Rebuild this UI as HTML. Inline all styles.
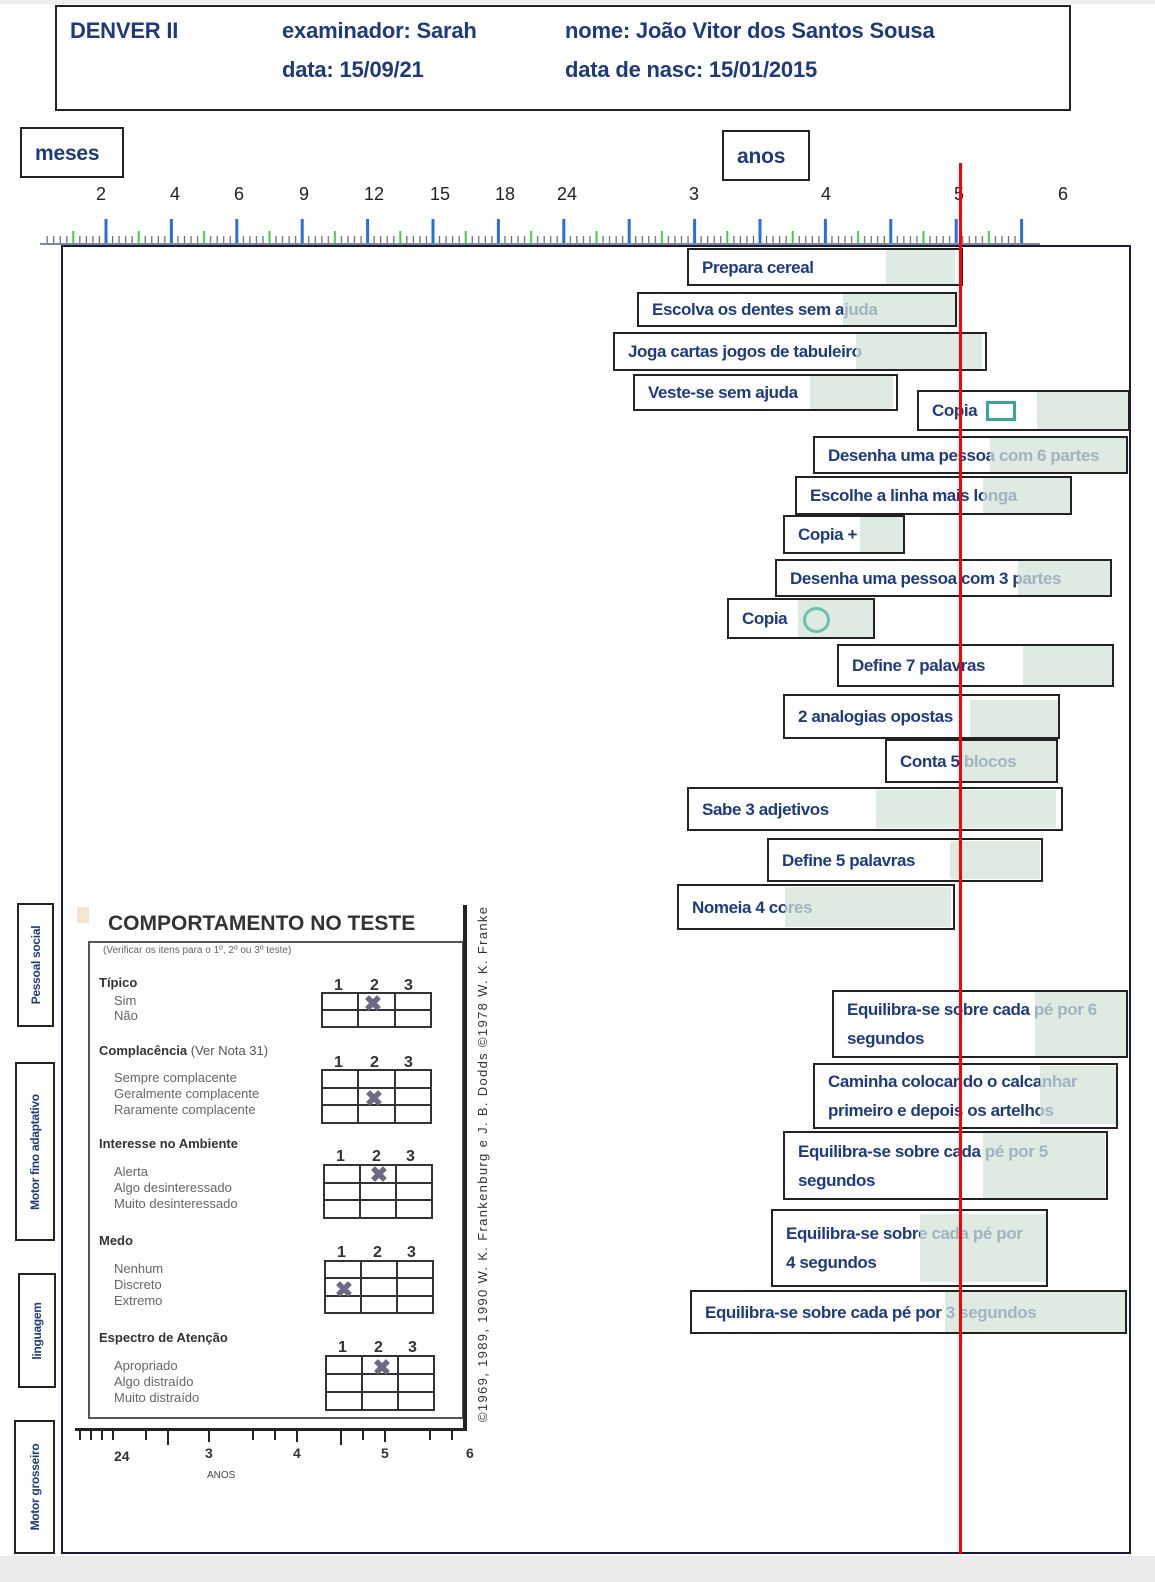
<!DOCTYPE html>
<html><head><meta charset="utf-8"><style>
*{margin:0;padding:0;box-sizing:border-box}
body{width:1155px;height:1582px;position:relative;background:#fff;font-family:"Liberation Sans",sans-serif;overflow:hidden}
.a{position:absolute}
.hd{position:absolute;font-weight:bold;color:#1f3a7c;font-size:22px;letter-spacing:-0.2px}
.bx{position:absolute;border:2px solid #222;background:#fff;color:#1f3b80;font-weight:bold;font-size:17px;display:flex;align-items:center;padding-left:13px;letter-spacing:-0.4px;line-height:29px;white-space:nowrap}
.sh{position:absolute;background:rgba(210,226,216,0.72)}
.lab{position:absolute;border:2px solid #222;background:#fff}
.lab span{position:absolute;left:50%;top:50%;transform:translate(-50%,-50%) rotate(-90deg);white-space:nowrap;color:#1f3b80;font-weight:bold;font-size:12px;letter-spacing:-0.3px}
.ct{position:absolute;color:#333;font-size:13px;font-weight:bold}
.cs{position:absolute;color:#666;font-size:13px}
</style></head><body>
<div class="a" style="left:0;top:0;width:1155px;height:4px;background:#eee"></div>
<div class="a" style="left:0;top:1556px;width:1155px;height:26px;background:#ececec"></div>
<div class="a" style="left:55px;top:5px;width:1016px;height:106px;border:2px solid #222"></div>
<div class="hd" style="left:70px;top:18px">DENVER II</div>
<div class="hd" style="left:282px;top:18px">examinador: Sarah</div>
<div class="hd" style="left:565px;top:18px">nome: João Vitor dos Santos Sousa</div>
<div class="hd" style="left:282px;top:57px">data: 15/09/21</div>
<div class="hd" style="left:565px;top:57px">data de nasc: 15/01/2015</div>
<div class="a" style="left:20px;top:127px;width:104px;height:51px;border:2px solid #222"></div>
<div class="hd" style="left:35px;top:142px;font-size:21px">meses</div>
<div class="a" style="left:722px;top:130px;width:88px;height:51px;border:2px solid #222"></div>
<div class="hd" style="left:737px;top:145px;font-size:21px">anos</div>
<div class="a" style="left:0;top:184px;font-size:18px;color:#222">
<span class="a" style="left:96px">2</span><span class="a" style="left:170px">4</span><span class="a" style="left:234px">6</span><span class="a" style="left:299px">9</span><span class="a" style="left:364px">12</span><span class="a" style="left:430px">15</span><span class="a" style="left:495px">18</span><span class="a" style="left:557px">24</span><span class="a" style="left:689px">3</span><span class="a" style="left:821px">4</span><span class="a" style="left:954px">5</span><span class="a" style="left:1058px">6</span></div>
<svg class="a" style="left:0;top:210px" width="1155" height="40">
<defs><pattern id="p" patternUnits="userSpaceOnUse" x="106" y="0" width="65.4" height="40">
<g stroke="#666" stroke-width="1.2">
<line x1="6.54" y1="26" x2="6.54" y2="33"/><line x1="13.08" y1="26" x2="13.08" y2="33"/><line x1="19.62" y1="26" x2="19.62" y2="33"/><line x1="26.16" y1="26" x2="26.16" y2="33"/>
<line x1="39.24" y1="26" x2="39.24" y2="33"/><line x1="45.78" y1="26" x2="45.78" y2="33"/><line x1="52.32" y1="26" x2="52.32" y2="33"/><line x1="58.86" y1="26" x2="58.86" y2="33"/></g>
<line x1="32.7" y1="21" x2="32.7" y2="33" stroke="#4c4" stroke-width="2"/>
</pattern></defs>
<rect x="40" y="0" width="985" height="34" fill="url(#p)"/>
<g stroke="#2a6fdc" stroke-width="3">
<line x1="106" y1="9" x2="106" y2="33"/><line x1="171.4" y1="9" x2="171.4" y2="33"/><line x1="236.8" y1="9" x2="236.8" y2="33"/><line x1="302.2" y1="9" x2="302.2" y2="33"/><line x1="367.6" y1="9" x2="367.6" y2="33"/><line x1="433" y1="9" x2="433" y2="33"/><line x1="498.4" y1="9" x2="498.4" y2="33"/><line x1="563.8" y1="9" x2="563.8" y2="33"/><line x1="629.2" y1="9" x2="629.2" y2="33"/><line x1="694.6" y1="9" x2="694.6" y2="33"/><line x1="760" y1="9" x2="760" y2="33"/><line x1="825.4" y1="9" x2="825.4" y2="33"/><line x1="890.8" y1="9" x2="890.8" y2="33"/><line x1="956.2" y1="9" x2="956.2" y2="33"/><line x1="1021.6" y1="9" x2="1021.6" y2="33"/></g>
<line x1="40" y1="34" x2="1040" y2="34" stroke="#7a8aa0" stroke-width="2"/>
</svg>
<div class="a" style="left:61px;top:245px;width:1070px;height:1309px;border:2px solid #1a1a3a"></div>
<div class="lab" style="left:17px;top:903px;width:37px;height:124px"><span>Pessoal social</span></div>
<div class="lab" style="left:15px;top:1062px;width:40px;height:179px"><span>Motor fino adaptativo</span></div>
<div class="lab" style="left:18px;top:1273px;width:38px;height:115px"><span>linguagem</span></div>
<div class="lab" style="left:14px;top:1420px;width:41px;height:134px"><span>Motor grosseiro</span></div>
<div class="a" style="left:77px;top:907px;width:12px;height:16px;background:#f3e6cf"></div>
<div class="a" style="left:108px;top:912px;font-size:21px;font-weight:bold;color:#333">COMPORTAMENTO NO TESTE</div>
<div class="a" style="left:88px;top:941px;width:376px;height:478px;border:2px solid #555"></div>
<div class="a" style="left:463px;top:905px;width:4px;height:524px;background:#222"></div>
<div class="a" style="left:75px;top:1428px;width:392px;height:3px;background:#222"></div>
<div class="cs" style="left:103px;top:945px;font-size:10px">(Verificar os itens para o 1º, 2º ou 3º teste)</div>
<div class="ct" style="left:99px;top:975px">Típico</div>
<div class="cs" style="left:114px;top:993px">Sim<br>Não</div>
<div class="ct" style="left:99px;top:1043px">Complacência <span style="font-weight:normal;color:#555">(Ver Nota 31)</span></div>
<div class="cs" style="left:114px;top:1070px;line-height:16px">Sempre complacente<br>Geralmente complacente<br>Raramente complacente</div>
<div class="ct" style="left:99px;top:1136px">Interesse no Ambiente</div>
<div class="cs" style="left:114px;top:1164px;line-height:16px">Alerta<br>Algo desinteressado<br>Muito desinteressado</div>
<div class="ct" style="left:99px;top:1233px">Medo</div>
<div class="cs" style="left:114px;top:1261px;line-height:16px">Nenhum<br>Discreto<br>Extremo</div>
<div class="ct" style="left:99px;top:1330px">Espectro de Atenção</div>
<div class="cs" style="left:114px;top:1358px;line-height:16px">Apropriado<br>Algo distraído<br>Muito distraído</div>
<svg class="a" style="left:0;top:0" width="500" height="1500">
<g font-family="Liberation Sans" font-size="16" fill="#333" font-weight="bold">
<text x="334" y="990">1</text><text x="370" y="990">2</text><text x="404" y="990">3</text>
<text x="334" y="1067">1</text><text x="370" y="1067">2</text><text x="404" y="1067">3</text>
<text x="336" y="1161">1</text><text x="372" y="1161">2</text><text x="406" y="1161">3</text>
<text x="337" y="1257">1</text><text x="373" y="1257">2</text><text x="407" y="1257">3</text>
<text x="338" y="1352">1</text><text x="374" y="1352">2</text><text x="408" y="1352">3</text></g>
<g fill="none" stroke="#333" stroke-width="2">
<rect x="322" y="993" width="109" height="34"/><line x1="322" y1="1010" x2="431" y2="1010"/><line x1="358" y1="993" x2="358" y2="1027"/><line x1="395" y1="993" x2="395" y2="1027"/>
<rect x="322" y="1070" width="109" height="53"/><line x1="322" y1="1088" x2="431" y2="1088"/><line x1="322" y1="1105" x2="431" y2="1105"/><line x1="358" y1="1070" x2="358" y2="1123"/><line x1="395" y1="1070" x2="395" y2="1123"/>
<rect x="324" y="1165" width="108" height="53"/><line x1="324" y1="1183" x2="432" y2="1183"/><line x1="324" y1="1200" x2="432" y2="1200"/><line x1="360" y1="1165" x2="360" y2="1218"/><line x1="396" y1="1165" x2="396" y2="1218"/>
<rect x="325" y="1261" width="108" height="52"/><line x1="325" y1="1278" x2="433" y2="1278"/><line x1="325" y1="1296" x2="433" y2="1296"/><line x1="361" y1="1261" x2="361" y2="1313"/><line x1="397" y1="1261" x2="397" y2="1313"/>
<rect x="326" y="1356" width="108" height="54"/><line x1="326" y1="1374" x2="434" y2="1374"/><line x1="326" y1="1392" x2="434" y2="1392"/><line x1="362" y1="1356" x2="362" y2="1410"/><line x1="398" y1="1356" x2="398" y2="1410"/></g>
<g font-family="Liberation Sans" font-size="22" fill="#6a6a85" font-weight="bold" text-anchor="middle">
<text x="373" y="1011">✖</text><text x="374" y="1106">✖</text><text x="379" y="1182">✖</text><text x="344" y="1297">✖</text><text x="382" y="1375">✖</text></g>
<g stroke="#222" stroke-width="2">
<line x1="80" y1="1430" x2="80" y2="1440"/><line x1="91" y1="1430" x2="91" y2="1440"/><line x1="102" y1="1430" x2="102" y2="1440"/><line x1="113" y1="1430" x2="113" y2="1440"/><line x1="146" y1="1430" x2="146" y2="1440"/><line x1="168" y1="1430" x2="168" y2="1445"/><line x1="209" y1="1430" x2="209" y2="1442"/><line x1="253" y1="1430" x2="253" y2="1440"/><line x1="275" y1="1430" x2="275" y2="1440"/><line x1="297" y1="1430" x2="297" y2="1442"/><line x1="341" y1="1430" x2="341" y2="1445"/><line x1="363" y1="1430" x2="363" y2="1440"/><line x1="385" y1="1430" x2="385" y2="1442"/><line x1="430" y1="1430" x2="430" y2="1440"/><line x1="452" y1="1430" x2="452" y2="1440"/></g>
<g font-family="Liberation Sans" font-size="14" fill="#333" font-weight="bold">
<text x="114" y="1461">24</text><text x="205" y="1458">3</text><text x="293" y="1458">4</text><text x="381" y="1458">5</text><text x="466" y="1458">6</text></g>
<text x="207" y="1478" font-family="Liberation Sans" font-size="10" fill="#444">ANOS</text>
<text transform="translate(487,1422) rotate(-90)" font-family="Liberation Sans" font-size="13" fill="#333" textLength="515">©1969, 1989, 1990 W. K. Frankenburg e J. B. Dodds ©1978 W. K. Franke</text>
</svg>
<div class="bx" style="left:687px;top:248px;width:276px;height:38px">Prepara cereal</div><div class="sh" style="left:886px;top:250px;width:69px;height:34px"></div>
<div class="bx" style="left:637px;top:292px;width:320px;height:35px">Escolva os dentes sem ajuda</div><div class="sh" style="left:843px;top:294px;width:112px;height:31px"></div>
<div class="bx" style="left:613px;top:332px;width:374px;height:39px">Joga cartas jogos de tabuleiro</div><div class="sh" style="left:856px;top:334px;width:126px;height:35px"></div>
<div class="bx" style="left:633px;top:374px;width:265px;height:37px">Veste-se sem ajuda</div><div class="sh" style="left:810px;top:376px;width:83px;height:33px"></div>
<div class="bx" style="left:917px;top:390px;width:213px;height:41px">Copia<span style="display:inline-block;width:30px;height:20px;border:3px solid #3aa59a;margin-left:9px"></span></div><div class="sh" style="left:1037px;top:392px;width:91px;height:37px"></div>
<div class="bx" style="left:813px;top:436px;width:315px;height:38px">Desenha uma pessoa com 6 partes</div><div class="sh" style="left:990px;top:438px;width:136px;height:34px"></div>
<div class="bx" style="left:795px;top:476px;width:277px;height:39px">Escolhe a linha mais longa</div><div class="sh" style="left:983px;top:478px;width:87px;height:35px"></div>
<div class="bx" style="left:783px;top:515px;width:122px;height:39px">Copia +</div><div class="sh" style="left:860px;top:517px;width:43px;height:35px"></div>
<div class="bx" style="left:775px;top:559px;width:337px;height:38px">Desenha uma pessoa com 3 partes</div><div class="sh" style="left:1018px;top:561px;width:92px;height:34px"></div>
<div class="bx" style="left:727px;top:598px;width:148px;height:41px">Copia</div><div class="sh" style="left:798px;top:600px;width:75px;height:37px"></div>
<div class="a" style="left:803px;top:607px;width:27px;height:26px;border:3px solid #6cc0b0;border-radius:50%"></div>
<div class="bx" style="left:837px;top:644px;width:277px;height:43px">Define 7 palavras</div><div class="sh" style="left:1023px;top:646px;width:89px;height:39px"></div>
<div class="bx" style="left:783px;top:694px;width:277px;height:45px">2 analogias opostas</div><div class="sh" style="left:970px;top:700px;width:88px;height:37px"></div>
<div class="bx" style="left:885px;top:739px;width:173px;height:44px">Conta 5 blocos</div><div class="sh" style="left:960px;top:741px;width:96px;height:40px"></div>
<div class="bx" style="left:687px;top:787px;width:376px;height:44px">Sabe 3 adjetivos</div><div class="sh" style="left:876px;top:790px;width:180px;height:38px"></div>
<div class="bx" style="left:767px;top:838px;width:276px;height:44px">Define 5 palavras</div><div class="sh" style="left:950px;top:841px;width:90px;height:38px"></div>
<div class="bx" style="left:677px;top:884px;width:278px;height:46px">Nomeia 4 cores</div><div class="sh" style="left:785px;top:887px;width:166px;height:40px"></div>
<div class="bx" style="left:832px;top:990px;width:296px;height:68px">Equilibra-se sobre cada pé por 6<br>segundos</div><div class="sh" style="left:1035px;top:992px;width:91px;height:64px"></div>
<div class="bx" style="left:813px;top:1063px;width:305px;height:66px">Caminha colocando o calcanhar<br>primeiro e depois os artelhos</div><div class="sh" style="left:1040px;top:1066px;width:76px;height:58px"></div>
<div class="bx" style="left:783px;top:1131px;width:325px;height:69px">Equilibra-se sobre cada pé por 5<br>segundos</div><div class="sh" style="left:983px;top:1133px;width:122px;height:65px"></div>
<div class="bx" style="left:771px;top:1209px;width:277px;height:78px">Equilibra-se sobre cada pé por<br>4 segundos</div><div class="sh" style="left:920px;top:1214px;width:126px;height:68px"></div>
<div class="bx" style="left:690px;top:1290px;width:437px;height:44px">Equilibra-se sobre cada pé por 3 segundos</div><div class="sh" style="left:945px;top:1292px;width:180px;height:40px"></div>
<div class="a" style="left:959px;top:163px;width:3px;height:1391px;background:#f00"></div>
</body></html>
